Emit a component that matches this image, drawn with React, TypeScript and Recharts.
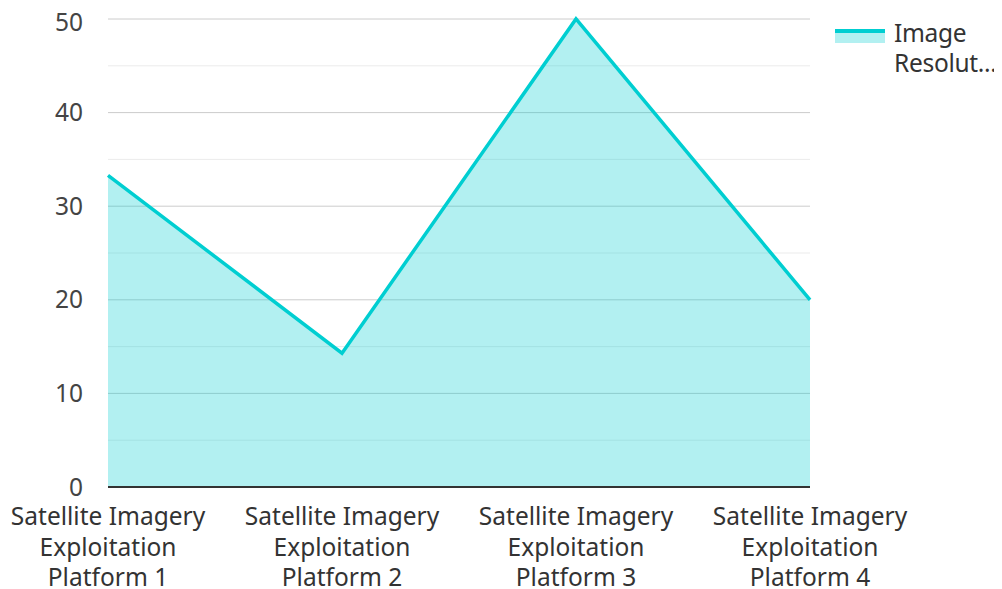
import React from "react";
import { AreaChart, Area, XAxis, YAxis, CartesianGrid } from "recharts";

const categories = [
  "Satellite Imagery Exploitation Platform 1",
  "Satellite Imagery Exploitation Platform 2",
  "Satellite Imagery Exploitation Platform 3",
  "Satellite Imagery Exploitation Platform 4",
];
const resolutionValues = [33.3, 14.3, 50, 20];
const yTicks = [0, 10, 20, 30, 40, 50];
const minorTicks = [5, 15, 25, 35, 45];
const seriesName = "Image Resolution";
const legendLines = ["Image", "Resolut..."];

const data = categories.map((c, i) => ({ name: c, value: resolutionValues[i] }));

const FONT = "'Noto Sans', sans-serif";
const COLOR = "#00CED1";
const FS = 24.5;

const XTick = (props: any) => {
  const { x, y, payload } = props;
  const words = String(payload.value).split(" ");
  const lines = [words.slice(0, 2).join(" "), words[2], words.slice(3).join(" ")];
  return (
    <text x={x} y={y} textAnchor="middle" fill="#333" fontSize={FS} fontFamily={FONT}>
      {lines.map((l, i) => (
        <tspan key={i} x={x} dy={i === 0 ? 30 : 30.5}>
          {l}
        </tspan>
      ))}
    </text>
  );
};

export default function App() {
  return (
    <div style={{ position: "relative", width: 994, height: 581 }}>
      <AreaChart
        width={994}
        height={581}
        data={data}
        margin={{ top: 11, right: 192, left: 0, bottom: 2 }}
      >
        <CartesianGrid vertical={false} horizontalValues={minorTicks} stroke="#ebebeb" strokeWidth={1} />
        <CartesianGrid vertical={false} stroke="#cccccc" strokeWidth={1} />
        <XAxis
          dataKey="name"
          tick={<XTick />}
          tickLine={false}
          axisLine={{ stroke: "#333", strokeWidth: 2 }}
          interval={0}
          height={100}
        />
        <YAxis
          domain={[0, 50]}
          ticks={yTicks}
          width={100}
          axisLine={false}
          tickLine={false}
          tick={{ fill: "#444", fontSize: FS, fontFamily: FONT, dx: -17 }}
        />
        <Area
          type="linear"
          dataKey="value"
          name={seriesName}
          stroke={COLOR}
          strokeWidth={3.5}
          fill={COLOR}
          fillOpacity={0.3}
          isAnimationActive={false}
          dot={false}
          activeDot={false}
        />
      </AreaChart>
      <svg width={52} height={40} style={{ position: "absolute", left: 827, top: 0 }}>
        <rect x={0} y={25} width={50} height={10} fill={COLOR} fillOpacity={0.3} />
        <line x1={0} y1={23} x2={50} y2={23} stroke={COLOR} strokeWidth={4} />
      </svg>
      <div
        style={{
          position: "absolute",
          left: 886,
          top: 10,
          fontFamily: FONT,
          fontSize: FS,
          lineHeight: "30px",
          color: "#333",
          whiteSpace: "nowrap",
          letterSpacing: -0.3,
        }}
      >
        {legendLines.map((l, i) => (
          <div key={i}>{l}</div>
        ))}
      </div>
    </div>
  );
}
